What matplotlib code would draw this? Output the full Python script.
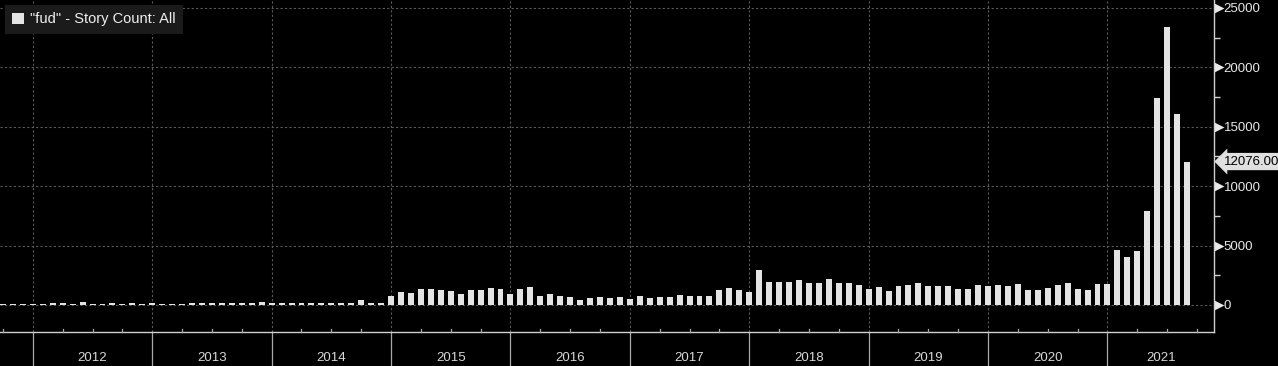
import matplotlib
matplotlib.use("Agg")
import matplotlib.pyplot as plt
from matplotlib.patches import Patch
from matplotlib.transforms import blended_transform_factory

# ---------------- data ----------------
first_month = "2011-09"          # first monthly bar (month-end dated)
story_counts = [
    # 2011 Sep-Dec
    80, 70, 80, 90,
    # 2012
    90, 200, 190, 110, 230, 110, 100, 200, 110, 200, 100, 190,
    # 2013
    100, 90, 80, 190, 200, 170, 160, 170, 170, 200, 290, 160,
    # 2014
    170, 170, 160, 170, 170, 160, 170, 180, 380, 170, 160, 760,
    # 2015
    1095, 1010, 1350, 1350, 1260, 1180, 925, 1260, 1260, 1430, 1350, 925,
    # 2016
    1350, 1515, 760, 925, 760, 675, 420, 590, 675, 590, 675, 505,
    # 2017
    760, 590, 675, 675, 840, 760, 760, 760, 1260, 1430, 1260, 1095,
    # 2018
    2950, 1935, 1935, 1935, 2100, 1850, 1850, 2190, 1850, 1850, 1680, 1350,
    # 2019
    1515, 1180, 1600, 1680, 1850, 1600, 1600, 1600, 1350, 1350, 1680, 1600,
    # 2020
    1680, 1600, 1770, 1260, 1260, 1430, 1680, 1850, 1350, 1260, 1770, 1770,
    # 2021 Jan-Aug
    4630, 4040, 4545, 7910, 17420, 23400, 16080, 12076,
]
year_labels = ["2012", "2013", "2014", "2015", "2016", "2017", "2018", "2019", "2020", "2021"]
y_ticks = [0, 5000, 10000, 15000, 20000, 25000]
series_label = '"fud" - Story Count: All'
last_label = "12076.00"

# ---------------- figure ----------------
W, H = 1278, 366
fig = plt.figure(figsize=(W / 100, H / 100), dpi=100, facecolor="black")
ax_right_px, ax_bottom_px = 1214, 332
ax = fig.add_axes([0, (H - ax_bottom_px) / H, ax_right_px / W, ax_bottom_px / H])
ax.set_facecolor("black")

FONT = "Liberation Sans"
bar_color = "#e4e4e4"
grid_color = "#5a5a5a"

x = list(range(len(story_counts)))
ax.bar(x, story_counts, width=0.6, color=bar_color, zorder=3)

ax.set_xlim(-0.30, 121.71)
ax.set_ylim(-2273, 25673)

# horizontal grid
for v in y_ticks:
    ax.axhline(v, color=grid_color, lw=0.8, ls=(0, (2, 2)), zorder=1)

# year boundaries (December bars of each year); index 0 is September
dec_idx = [i for i in x if (i + 8) % 12 == 11]
bound_tr = blended_transform_factory(ax.transData, ax.transAxes)
for i in dec_idx:
    ax.axvline(i, color=grid_color, lw=0.8, ls=(0, (2, 2)), zorder=1)
    ax.plot([i, i], [0, -34 / ax_bottom_px], color="#a8a8a8", lw=0.9,
            transform=bound_tr, clip_on=False)

# quarter ticks on bottom axis
for i in range(0, 121, 3):
    if i in dec_idx:
        continue
    ax.plot([i, i], [0, 3 / ax_bottom_px], color="#a8a8a8", lw=0.9,
            transform=bound_tr, clip_on=False, zorder=4)

# year labels
bounds = dec_idx + [121.71]
for lab, a, b in zip(year_labels, bounds[:-1], bounds[1:]):
    ax.text((a + b) / 2, -26 / ax_bottom_px, lab, transform=bound_tr,
            ha="center", va="center", color="#d8d8d8", fontsize=9.5, family=FONT)

# spines
for s in ["left", "top"]:
    ax.spines[s].set_visible(False)
ax.spines["bottom"].set_color("#d0d0d0")
ax.spines["right"].set_color("#d0d0d0")
ax.spines["bottom"].set_linewidth(1.0)
ax.spines["right"].set_linewidth(1.0)

ax.set_xticks([])
ax.yaxis.tick_right()
ax.set_yticks(y_ticks)
ax.set_yticklabels([f"{v}" for v in y_ticks], family=FONT, fontsize=9.5, color="#e8e8e8")
ax.set_yticks([2500, 7500, 12500, 17500, 22500], minor=True)
ax.tick_params(axis="y", which="major", length=0, pad=7)
ax.tick_params(axis="y", which="minor", length=4, width=1, color="#d0d0d0", direction="out")

# triangle markers for major ticks
tri_tr = blended_transform_factory(ax.transAxes, ax.transData)
for v in y_ticks:
    ax.plot([1 + 5 / ax_right_px], [v], marker=">", ms=7, color="#e8e8e8",
            transform=tri_tr, clip_on=False, mec="none")

# last value tag
last_val = story_counts[-1]
ax.annotate(last_label, xy=(1.0, last_val), xycoords=tri_tr,
            xytext=(7, 0), textcoords="offset points", ha="left", va="center",
            fontsize=9.5, family=FONT, color="black",
            bbox=dict(boxstyle="larrow,pad=0.2", fc="#e0e0e0", ec="none"))

# legend
leg = ax.legend(handles=[Patch(facecolor=bar_color, edgecolor="none", label=series_label)],
                loc="upper left", bbox_to_anchor=(5 / ax_right_px, 1 - 5 / ax_bottom_px),
                borderaxespad=0, frameon=True, fancybox=False, facecolor="#1b1b1b",
                edgecolor="none", framealpha=1, handlelength=0.8, handleheight=0.8,
                handletextpad=0.4, borderpad=0.5, prop={"family": FONT, "size": 10.5})
for t in leg.get_texts():
    t.set_color("#f0f0f0")

fig.savefig("out.png", dpi=100, facecolor="black")
